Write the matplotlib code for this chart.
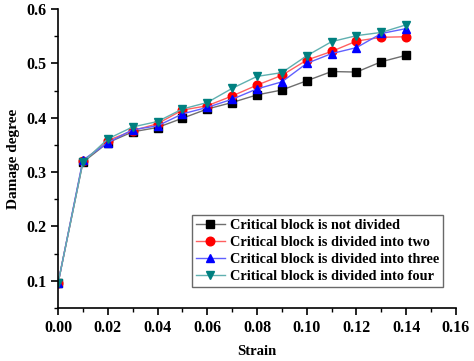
import numpy as np
import matplotlib
matplotlib.use('Agg')
import matplotlib.pyplot as plt
from matplotlib.ticker import MultipleLocator

plt.rcParams['font.family'] = ['Liberation Serif', 'DejaVu Serif']
plt.rcParams['font.weight'] = 'bold'

strain = [0.00, 0.01, 0.02, 0.03, 0.04, 0.05, 0.06, 0.07,
          0.08, 0.09, 0.10, 0.11, 0.12, 0.13, 0.14]

not_divided = [0.095, 0.318, 0.354, 0.374, 0.382, 0.399, 0.416, 0.428,
               0.442, 0.451, 0.468, 0.485, 0.484, 0.503, 0.515]
into_two = [0.095, 0.320, 0.358, 0.376, 0.389, 0.414, 0.422, 0.440,
            0.460, 0.478, 0.506, 0.522, 0.541, 0.548, 0.549]
into_three = [0.095, 0.322, 0.354, 0.378, 0.385, 0.407, 0.419, 0.434,
              0.453, 0.466, 0.500, 0.518, 0.529, 0.555, 0.564]
into_four = [0.095, 0.318, 0.361, 0.383, 0.393, 0.416, 0.428, 0.454,
             0.476, 0.483, 0.514, 0.540, 0.551, 0.557, 0.571]

labels = ['Critical block is not divided',
          'Critical block is divided into two',
          'Critical block is divided into three',
          'Critical block is divided into four']

series = [
    (not_divided, 's', 'black', '#6e6e6e'),
    (into_two, 'o', 'red', '#ff6060'),
    (into_three, '^', 'blue', '#6060ff'),
    (into_four, 'v', '#008080', '#60b0b0'),
]

fig = plt.figure(figsize=(4.74, 3.61), dpi=100)
ax = fig.add_axes([0.1224, 0.147, 0.8396, 0.828])

for (vals, mk, mc, lc), lab in zip(series, labels):
    ax.plot(strain, vals, color=lc, linewidth=1.0, marker=mk,
            markersize=6.2, markerfacecolor=mc, markeredgecolor=mc,
            label=lab)

ax.set_xlim(0, 0.16)
ax.set_ylim(0.05, 0.6)
ax.xaxis.set_major_locator(MultipleLocator(0.02))
ax.xaxis.set_minor_locator(MultipleLocator(0.01))
ax.yaxis.set_major_locator(MultipleLocator(0.1))
ax.yaxis.set_minor_locator(MultipleLocator(0.05))
ax.set_xticklabels([f'{v:.2f}' for v in ax.get_xticks()])
ax.set_yticklabels([f'{v:.1f}' for v in ax.get_yticks()])

for s in ['top', 'right']:
    ax.spines[s].set_visible(False)
for s in ['left', 'bottom']:
    ax.spines[s].set_linewidth(1.2)

ax.tick_params(which='major', direction='out', length=5, width=1.2,
               labelsize=11.5)
ax.tick_params(which='minor', direction='out', length=3, width=1.0)

ax.set_xlabel('Strain', fontsize=10.5, fontweight='bold', labelpad=7)
ax.set_ylabel('Damage degree', fontsize=11, fontweight='bold', labelpad=4)

leg = ax.legend(loc='lower right', bbox_to_anchor=(0.975, 0.06),
                fontsize=10.3, frameon=True, fancybox=False,
                edgecolor='#444444', handlelength=2.0, borderpad=0.3,
                labelspacing=0.27, handletextpad=0.35, borderaxespad=0.2)
leg.get_frame().set_linewidth(1.0)

fig.savefig('out.png', dpi=100)
